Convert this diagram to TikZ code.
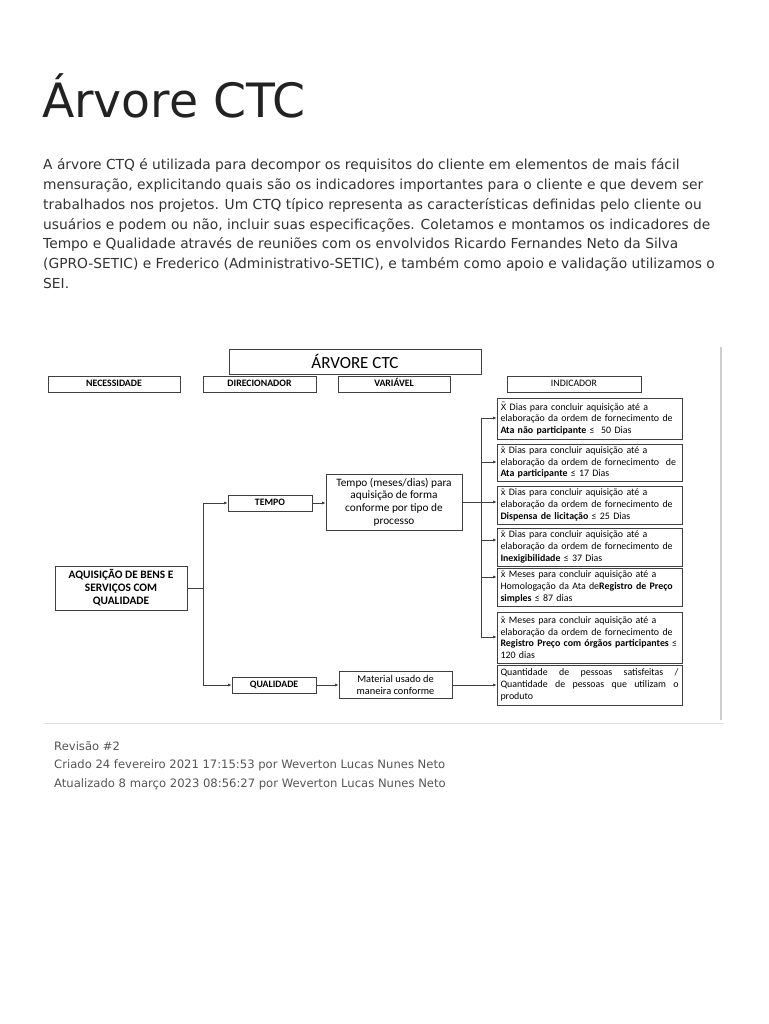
\documentclass[tikz,border=0pt]{standalone}
\usepackage{fontspec}
\setmainfont{DejaVu Sans}
\newfontfamily\carl{Carlito}
\newfontfamily\djv{DejaVu Sans}
\newcommand\mbar[1]{{\djv\fontsize{8.6}{11}\selectfont\=#1}}
\usetikzlibrary{arrows.meta}
\definecolor{ttl}{HTML}{222222}
\definecolor{body}{HTML}{333333}
\definecolor{foot}{HTML}{555555}
\definecolor{ln}{HTML}{404040}
\definecolor{rule}{HTML}{E2E2E2}
\tikzset{
  ptext/.style={anchor=base west, inner sep=0pt, text=body, font=\fontsize{13.8}{16}\selectfont},
  ftext/.style={anchor=base west, inner sep=0pt, text=foot, font=\fontsize{11.6}{14}\selectfont},
  box/.style={draw=ln, line width=0.8pt, inner sep=0pt, align=center, text=black},
  hdr/.style={box, minimum height=16pt, text height=6.8pt, text depth=1.6pt, font=\carl\bfseries\fontsize{9.8}{11}\selectfont},
  ind/.style={box, align=left, inner xsep=3.5pt, text width=178pt, minimum width=185pt,
     font=\carl\fontsize{9.9}{11.7}\selectfont},
  arr/.style={draw=ln, line width=0.8pt, -{Latex[length=3.5pt,width=3pt]}},
  conn/.style={draw=ln, line width=0.8pt}
}
\begin{document}
\begin{tikzpicture}[x=1pt,y=-1pt]
\useasboundingbox (0,0) rectangle (768,1024);
\fill[white] (0,0) rectangle (768,1024);

% heading and text
\node[anchor=base west, inner sep=0pt, text=ttl, font=\fontsize{47.3}{50}\selectfont] (title) at (42,118) {Árvore CTC};
\node[ptext] (p1) at (43,170) {A árvore CTQ é utilizada para decompor os requisitos do cliente em elementos de mais fácil};
\node[ptext] (p2) at (43,189.7) {mensuração, explicitando quais são os indicadores importantes para o cliente e que devem ser};
\node[ptext] (p3) at (43,209.4) {trabalhados nos projetos. Um CTQ típico representa as características definidas pelo cliente ou};
\node[ptext] (p4) at (43,229.1) {usuários e podem ou não, incluir suas especificações. Coletamos e montamos os indicadores de};
\node[ptext] (p5) at (43,248.8) {Tempo e Qualidade através de reuniões com os envolvidos Ricardo Fernandes Neto da Silva};
\node[ptext] (p6) at (43,268.5) {(GPRO-SETIC) e Frederico (Administrativo-SETIC), e também como apoio e validação utilizamos o};
\node[ptext] (p7) at (43,288.2) {SEI.};

% diagram frame edge
\draw[draw=rule!80!gray, line width=1.2pt] (721,347) -- (721,720);

% headers
\node[box, minimum width=252pt, minimum height=25pt, font=\carl\fontsize{17}{19}\selectfont] (tbox) at (355,361.5) {ÁRVORE CTC};
\node[hdr, minimum width=132pt] (hnec) at (114,384) {NECESSIDADE};
\node[hdr, minimum width=113pt] (hdir) at (259.5,384) {DIRECIONADOR};
\node[hdr, minimum width=112pt] (hvar) at (394,384) {VARIÁVEL};
\node[hdr, minimum width=134pt, font=\carl\fontsize{9.8}{11}\selectfont] (hind) at (574,384) {INDICADOR};

% left part
\node[box, minimum width=132pt, minimum height=44pt, font=\carl\bfseries\fontsize{11.4}{13}\selectfont] (aq) at (121,588) {AQUISIÇÃO DE BENS E\\SERVIÇOS COM\\QUALIDADE};
\node[hdr, minimum width=84pt] (tempo) at (270,503) {TEMPO};
\node[hdr, minimum width=84pt] (qual) at (274,685) {QUALIDADE};
\node[box, minimum width=136pt, minimum height=56pt, font=\carl\fontsize{11.3}{12.8}\selectfont] (var) at (394,502) {Tempo (meses/dias) para\\aquisição de forma\\conforme por tipo de\\processo};
\node[box, minimum width=113pt, minimum height=27pt, font=\carl\fontsize{10.4}{11.8}\selectfont] (mat) at (395.5,685) {Material usado de\\maneira conforme};

% indicator boxes
\node[ind, minimum height=41pt] (b1) at (589.5,418.5) {\mbar{X} Dias para concluir aquisição até a\\elaboração da ordem de fornecimento de\\\textbf{Ata não participante} ≤~ 50 Dias};
\node[ind, minimum height=37pt] (b2) at (589.5,462.5) {\mbar{x} Dias para concluir aquisição até a\\elaboração da ordem de fornecimento~ de\\\textbf{Ata participante} ≤ 17 Dias};
\node[ind, minimum height=38pt] (b3) at (589.5,505) {\mbar{x} Dias para concluir aquisição até a\\elaboração da ordem de fornecimento de\\\textbf{Dispensa de licitação} ≤ 25 Dias};
\node[ind, minimum height=38pt] (b4) at (589.5,547) {\mbar{x} Dias para concluir aquisição até a\\elaboração da ordem de fornecimento de\\\textbf{Inexigibilidade} ≤ 37 Dias};
\node[ind, minimum height=38pt] (b5) at (589.5,587) {\mbar{x} Meses para concluir aquisição até a\\Homologação da Ata de\textbf{Registro de Preço}\\\textbf{simples} ≤ 87 dias};
\node[ind, minimum height=51pt] (b6) at (589.5,637.5) {\mbar{x} Meses para concluir aquisição até a\\elaboração da ordem de fornecimento de\\\textbf{Registro Preço com órgãos participantes} ≤\\120 dias};
\node[ind, minimum height=40pt] (b7) at (589.5,685) {Quantidade\hfill de\hfill pessoas\hfill satisfeitas\hfill /\\Quantidade\hfill de\hfill pessoas\hfill que\hfill utilizam\hfill o\\produto};

% connectors
\coordinate (split) at (203,588);
\draw[conn] (aq.east) -- (split);
\draw[arr] (split) |- (tempo.west);
\draw[arr] (split) |- (qual.west);
\draw[arr] (tempo.east) -- (tempo.east -| var.west);
\draw[arr] (qual.east) -- (qual.east -| mat.west);
\draw[arr] (mat.east) -- (mat.east -| b7.west);

\coordinate (a1) at (481,418);
\coordinate (a2) at (481,462);
\coordinate (a4) at (481,540);
\coordinate (a5) at (481,577);
\coordinate (a6) at (481,637);
\draw[conn] (a1) -- (a6);
\draw[arr] (var.east) -- (var.east -| b3.west);
\draw[arr] (a1) -- (a1 -| b1.west);
\draw[arr] (a2) -- (a2 -| b2.west);
\draw[arr] (a4) -- (a4 -| b4.west);
\draw[arr] (a5) -- (a5 -| b5.west);
\draw[arr] (a6) -- (a6 -| b6.west);

% separator and footer
\draw[draw=rule, line width=1pt] (43,723) -- (724,723);
\node[ftext] (f1) at (54,750) {Revisão \#2};
\node[ftext] (f2) at (54,768.5) {Criado 24 fevereiro 2021 17:15:53 por Weverton Lucas Nunes Neto};
\node[ftext] (f3) at (54,787) {Atualizado 8 março 2023 08:56:27 por Weverton Lucas Nunes Neto};
\end{tikzpicture}
\end{document}
